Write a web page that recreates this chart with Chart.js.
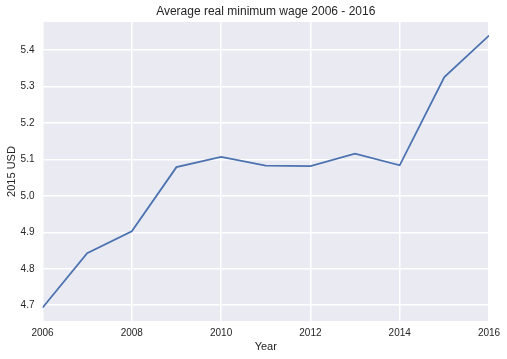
<!DOCTYPE html>
<html><head><meta charset="utf-8">
<script src="https://cdn.jsdelivr.net/npm/chart.js@4"></script>
<style>html,body{margin:0;padding:0;background:#fff}#wrap{width:507px;height:359px}</style>
</head><body><div id="wrap"><canvas id="c" width="507" height="359"></canvas></div>
<script>
const years = [2006, 2007, 2008, 2009, 2010, 2011, 2012, 2013, 2014, 2015, 2016];
const wages = [4.693, 4.843, 4.903, 5.079, 5.107, 5.083, 5.082, 5.116, 5.084, 5.326, 5.440];
const xTicks = [2006, 2008, 2010, 2012, 2014, 2016];
const yTicks = [4.7, 4.8, 4.9, 5.0, 5.1, 5.2, 5.3, 5.4];
const titleText = 'Average real minimum wage 2006 - 2016';
const xLabel = 'Year';
const yLabel = '2015 USD';

const FONT = '"Liberation Sans", Arial, sans-serif';
const bgPlugin = {
  id: 'bg',
  beforeDraw(chart) {
    const {ctx, chartArea: a} = chart;
    ctx.save();
    ctx.fillStyle = '#EAEAF2';
    ctx.fillRect(a.left, a.top, a.right - a.left, a.bottom - a.top);
    ctx.restore();
  },
  afterDraw(chart) {
    const {ctx, chartArea: a} = chart;
    ctx.save();
    ctx.fillStyle = '#262626';
    ctx.font = '12px ' + FONT;
    ctx.textAlign = 'center';
    ctx.textBaseline = 'middle';
    ctx.fillText(titleText, (a.left + a.right) / 2, 12);
    ctx.restore();
  }
};

const yMin = 4.6567, yMax = 5.4773;
new Chart(document.getElementById('c'), {
  type: 'line',
  data: {
    datasets: [{
      data: years.map((y, i) => ({x: y, y: wages[i]})),
      borderColor: '#4C72B0',
      borderWidth: 1.8,
      pointRadius: 0,
      tension: 0,
      fill: false
    }]
  },
  options: {
    responsive: false,
    animation: false,
    layout: {padding: {top: 22, right: 18, left: 0, bottom: 0}},
    plugins: {legend: {display: false}, tooltip: {enabled: false}, title: {display: false}},
    scales: {
      x: {
        type: 'linear', min: 2006, max: 2016,
        afterBuildTicks: s => { s.ticks = xTicks.map(v => ({value: v})); },
        afterFit: s => { s.height = 38; },
        grid: {color: '#FFFFFF', lineWidth: 1.5, drawTicks: false},
        border: {display: false},
        ticks: {color: '#262626', font: {family: FONT, size: 10}, padding: 6, maxRotation: 0,
                callback: v => String(v)},
        title: {display: true, text: xLabel, color: '#262626', font: {family: FONT, size: 11}, padding: {top: 0, bottom: 5}}
      },
      y: {
        type: 'linear', min: yMin, max: yMax,
        afterBuildTicks: s => { s.ticks = yTicks.map(v => ({value: v})); },
        afterFit: s => { s.width = 42.5; },
        grid: {color: '#FFFFFF', lineWidth: 1.5, drawTicks: false},
        border: {display: false},
        ticks: {color: '#262626', font: {family: FONT, size: 10}, padding: 8,
                callback: v => v.toFixed(1)},
        title: {display: true, text: yLabel, color: '#262626', font: {family: FONT, size: 11}, padding: {top: 5, bottom: 0}}
      }
    }
  },
  plugins: [bgPlugin]
});
</script></body></html>
